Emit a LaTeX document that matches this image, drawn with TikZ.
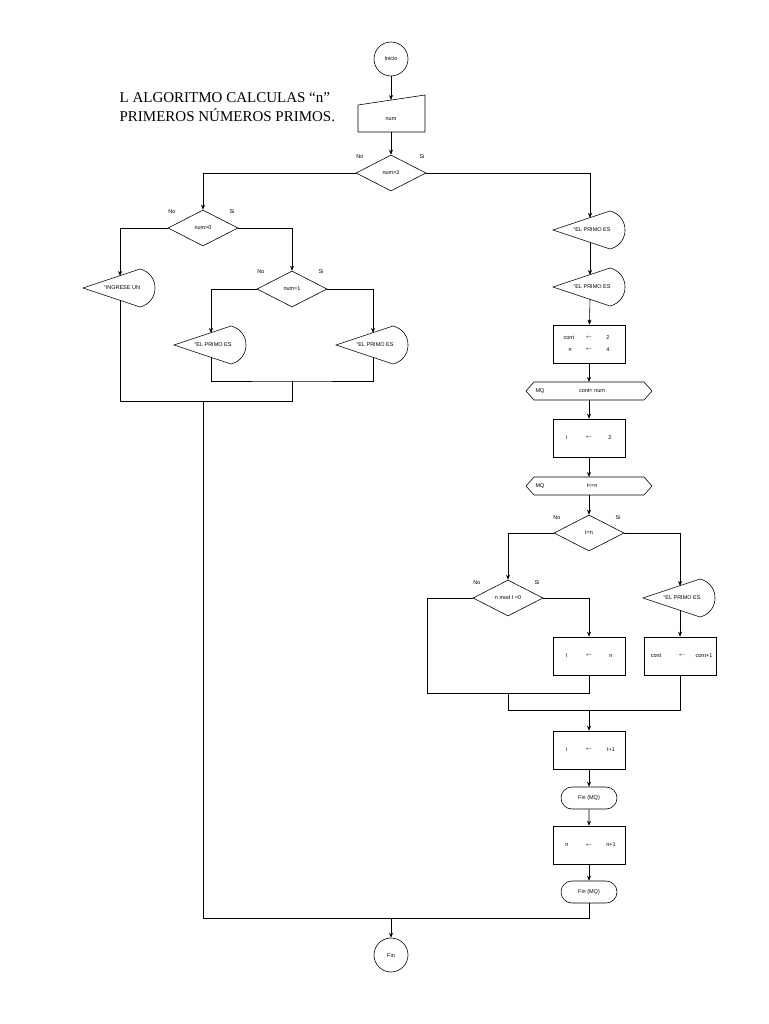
\documentclass[tikz,border=0pt]{standalone}
\usepackage{fontspec}
\setmainfont{Liberation Serif}
\setsansfont{Liberation Sans}
\usetikzlibrary{shapes.geometric,shapes.misc,arrows.meta}
\begin{document}
\begin{tikzpicture}[x=1pt,y=-1pt,line width=0.6pt,
  arr/.style={-{Stealth[length=5pt,width=4pt]}},
  sm/.style={font=\sffamily\fontsize{5.5}{6}\selectfont},
  dec/.style={diamond,draw,minimum width=70pt,minimum height=36pt,inner sep=0pt,sm},
  proc/.style={draw,minimum width=72pt,minimum height=38pt,inner sep=0pt,sm},
  term/.style={rounded rectangle,draw,minimum width=56pt,minimum height=22pt,inner sep=0pt,sm},
  lbl/.style={sm}]
\useasboundingbox (0,0) rectangle (768,1024);
\newcommand{\disp}[4]{%
  \draw (#2-37,#3) -- (#2+20,#3-19) .. controls (#2+40,#3-14) and (#2+40,#3+14) .. (#2+20,#3+19) -- cycle;
  \node[sm] (#1) at (#2+2,#3) {#4};
  \coordinate (#1t) at (#2,#3-12);
  \coordinate (#1b) at (#2,#3+12);}
\newcommand{\hexa}[4]{%
  \draw (#2-63,#3) -- (#2-55,#3-9) -- (#2+55,#3-9) -- (#2+63,#3) -- (#2+55,#3+9) -- (#2-55,#3+9) -- cycle;
  \node[sm] at (#2-49,#3) {MQ};
  \node[sm] (#1) at (#2+3,#3) {#4};
  \coordinate (#1t) at (#2,#3-9);
  \coordinate (#1b) at (#2,#3+9);}
% title
\node[anchor=west,align=left,font=\fontsize{15}{19}\selectfont] (title) at (116,107) {L ALGORITMO CALCULAS ``n''\\PRIMEROS NÚMEROS PRIMOS.};
% start
\node[circle,draw,minimum size=34pt,inner sep=0pt,sm] (ini) at (391,59) {Inicio};
\draw (358,105) -- (425,95) -- (425,132) -- (358,132) -- cycle;
\node[sm] (num) at (391,119) {num};
\coordinate (numt) at (391,100); \coordinate (numb) at (391,132);
\draw[arr] (ini) -- (numt);
\node[dec] (d1) at (391,173) {num>2};
\draw[arr] (numb) -- (d1.north);
\node[lbl] at (360,157) {No}; \node[lbl] at (422,157) {Si};
% left branch
\node[dec] (d2) at (203,228) {num>0};
\node[lbl] at (172,212) {No}; \node[lbl] at (232,212) {Si};
\draw[arr] (d1.west) -| (d2.north);
\disp{ing}{120}{288}{``INGRESE UN}
\draw[arr] (d2.west) -| (ingt);
\node[dec] (d3) at (292,289) {num=1};
\node[lbl] at (261,272) {No}; \node[lbl] at (321,272) {Si};
\draw[arr] (d2.east) -| (d3.north);
\disp{p1}{211}{345}{``EL PRIMO ES}
\disp{p2}{373}{345}{``EL PRIMO ES}
\draw[arr] (d3.west) -| (p1t);
\draw[arr] (d3.east) -| (p2t);
\coordinate (m1) at (292,381);
\coordinate (m2) at (203,401);
\draw (p1b) |- (m1) -| (p2b);
\draw (m1) -- (292,401) -- (ingb |- m2) -- (ingb);
\coordinate (m3) at (391,918);
\draw (292,401) -- (m2) |- (m3);
\node[circle,draw,minimum size=34pt,inner sep=0pt,sm] (fin) at (391,955) {Fin};
\draw[arr] (m3) -- (fin);
% right branch
\disp{r1}{590}{230}{``EL PRIMO ES}
\disp{r2}{590}{287}{``EL PRIMO ES}
\draw[arr] (d1.east) -| (r1t);
\draw[arr] (r1b) -- (r2t);
\node[proc] (c1) at (589,344) {};
\node[sm,anchor=west] at (560,338) {cont}; \node[sm] at (589,338) {$\leftarrow$}; \node[sm] at (608,338) {2};
\node[sm,anchor=west] at (565,350) {n}; \node[sm] at (589,350) {$\leftarrow$}; \node[sm] at (608,350) {4};
\draw[arr] (r2b) -- (c1);
\hexa{h1}{589}{391}{cont< num}
\draw[arr] (c1) -- (h1t);
\node[proc] (c2) at (589,438) {};
\node[sm] at (567,438) {I}; \node[sm] at (589,438) {$\leftarrow$}; \node[sm] at (610,438) {2};
\draw[arr] (h1b) -- (c2);
\hexa{h2}{589}{486}{I<=n}
\draw[arr] (c2) -- (h2t);
\node[dec] (d4) at (589,533) {I=n};
\node[lbl] at (557,518) {No}; \node[lbl] at (618,518) {Si};
\draw[arr] (h2b) -- (d4);
\node[dec] (d5) at (508,598) {n mod I =0};
\node[lbl] at (477,583) {No}; \node[lbl] at (537,583) {Si};
\draw[arr] (d4.west) -| (d5.north);
\node[proc] (c3) at (589,656) {};
\node[sm] at (567,656) {I}; \node[sm] at (589,656) {$\leftarrow$}; \node[sm] at (611,656) {n};
\draw[arr] (d5.east) -| (c3);
\disp{r3}{680}{598}{``EL PRIMO ES}
\draw[arr] (d4.east) -| (r3t);
\node[proc] (c4) at (680,656) {};
\node[sm] at (656,656) {cont}; \node[sm] at (682,656) {$\leftarrow$}; \node[sm] at (704,656) {cont+1};
\draw[arr] (r3b) -- (c4);
\coordinate (m4) at (508,693);
\coordinate (m5) at (589,710);
\draw (d5.west) -- (427,598) |- (c3.south |- m4) -- (c3.south);
\draw (m4) -- (508,710) -| (c4.south);
\node[proc] (c5) at (589,750) {};
\node[sm] at (567,750) {I}; \node[sm] at (589,750) {$\leftarrow$}; \node[sm] at (611,750) {I+1};
\draw[arr] (m5) -- (c5);
\node[term] (t1) at (589,798) {Fin (MQ)};
\draw[arr] (c5) -- (t1);
\node[proc] (c6) at (589,845) {};
\node[sm] at (567,845) {n}; \node[sm] at (589,845) {$\leftarrow$}; \node[sm] at (611,845) {n+1};
\draw[arr] (t1) -- (c6);
\node[term] (t2) at (589,892) {Fin (MQ)};
\draw[arr] (c6) -- (t2);
\draw (t2) |- (m3);
\end{tikzpicture}
\end{document}
